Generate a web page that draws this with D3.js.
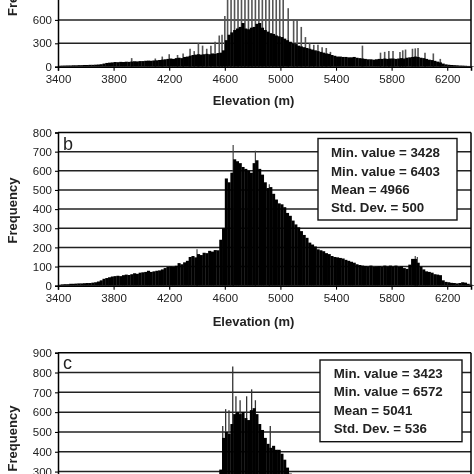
<!DOCTYPE html>
<html><head><meta charset="utf-8">
<script src="https://cdnjs.cloudflare.com/ajax/libs/d3/7.8.5/d3.min.js"></script>
<style>html,body{margin:0;padding:0;background:#fff;overflow:hidden}svg{display:block;filter:blur(.35px)}</style>
</head><body><svg id="c" width="474" height="474"></svg>
<script>
const binStart = 3400, binStep = 20;
const xTicks = [3400,3800,4200,4600,5000,5400,5800,6200];
const aTicks = [0,300,600];
const bTicks = [0,100,200,300,400,500,600,700,800];
const cTicks = [300,400,500,600,700,800,900];
const aBase = [12,14,15,16,16,18,18,20,20,22,22,24,24,26,28,
 32,40,48,52,55,
 60,58,62,60,64,62,66,70,68,72,
 72,76,78,76,80,82,86,90,95,100,
 105,100,110,115,110,125,130,140,150,155,
 160,155,160,165,160,170,165,175,180,210,
 340,410,440,470,490,510,560,490,480,500,
 510,550,560,500,470,450,430,420,400,390,
 380,360,340,320,300,290,270,260,250,240,
 230,220,210,200,190,180,170,165,150,140,
 130,130,125,125,120,120,125,115,110,105,
 100,95,95,90,95,100,100,105,100,105,
 105,100,105,110,105,115,120,125,130,125,
 115,110,100,90,85,75,65,55,40,30,
 25,22,20,18,15,14,12,10,8,5];
const aSpikeElev = [3930,4100,4150,4200,4260,4300,4350,4380,4410,4440,4470,4500,4530,4560,4580,4600,4620,4645,4670,4695,4720,4745,4770,4795,4820,4845,4870,4895,4920,4945,4970,4995,5020,5056,5095,5120,5150,5180,5210,5240,5270,5300,5330,5360,5590,5720,5750,5780,5810,5860,5880,5900,5950,5970,5990,6040,6100,6150];
const aSpikeVal = [110,105,130,160,150,170,230,200,300,270,230,270,320,400,410,650,960,1000,930,990,940,1010,970,1000,950,990,940,1000,960,1000,930,990,900,750,600,600,510,380,300,280,280,250,240,190,270,180,190,200,200,190,210,220,230,235,240,180,170,100];
const bVals = [5,7,8,8,10,10,11,12,12,13,14,14,16,18,22,
 28,36,40,44,48,
 50,52,50,55,58,56,60,65,62,68,
 70,72,78,72,75,78,80,85,92,98,
 100,98,104,118,112,122,130,150,155,148,
 165,160,172,170,182,178,186,185,240,300,
 560,540,590,660,650,640,620,610,600,590,
 640,655,610,580,540,510,515,480,450,430,
 425,410,380,365,340,320,305,285,265,250,
 225,215,205,190,185,180,170,165,155,150,
 148,145,142,135,130,125,120,112,108,105,
 103,100,105,98,100,102,98,105,100,105,
 100,105,98,102,92,88,110,140,140,120,
 100,85,75,72,68,60,58,55,28,20,
 18,15,14,12,14,18,16,10,5,3];
const bSpikeElev = [4400,4660,4820,4920,5970,5985];
const bSpikeVal = [190,735,705,530,155,150];
const cVisibleStart = 4540;
const cVals = [200,310,470,500,490,540,590,600,590,600,570,560,610,620,590,540,510,470,440,420,430,410,410,390,360,320,290,250];
const cSpikeElev = [4585,4606,4630,4657,4680,4710,4757,4793,4820,4927];
const cSpikeVal = [530,615,610,830,680,660,680,715,660,530];
const xLabel = "Elevation (m)", yLabel = "Frequency";
const bStats = ["Min. value = 3428","Min. value = 6403","Mean = 4966","Std. Dev. = 500"];
const cStats = ["Min. value = 3423","Min. value = 6572","Mean = 5041","Std. Dev. = 536"];

const FONT = '"Liberation Sans", Arial, sans-serif', INK = '#222';
const svg = d3.select('#c').style('font-family', FONT);
const L = 58, R = 471;
const x = d3.scaleLinear().domain([3400, 6371]).range([L, R]);

function panel(o){
  const y = d3.scaleLinear().domain([0, o.yMax]).range([o.y0, o.yTop]);
  const g = svg.append('g');
  g.append('g').selectAll('line').data(o.ticks.filter(t => t>0 && t<o.yMax)).join('line')
    .attr('x1', L).attr('x2', R).attr('y1', d=>y(d)).attr('y2', d=>y(d))
    .attr('stroke', '#222').attr('stroke-width', 1.5);
  if (o.spE) g.append('g').selectAll('line').data(o.spE).join('line')
    .attr('x1', d=>x(d)).attr('x2', d=>x(d)).attr('y1', o.y0)
    .attr('y2', (d,i)=>y(o.spV[i])).attr('stroke', o.spColor).attr('stroke-width', o.spW);
  g.append('g').selectAll('rect').data(o.vals).join('rect')
    .attr('x', (d,i)=>x(o.start + i*binStep))
    .attr('width', x(binStep)-x(0)+0.3)
    .attr('y', d=>y(d)).attr('height', d=>o.y0-y(d)).attr('fill', '#000');
  const axes = [g.append('g').attr('transform', `translate(${L},0)`)
    .call(d3.axisLeft(y).tickValues(o.ticks).tickFormat(d3.format('d')).tickSize(3).tickPadding(3))];
  if (o.y0 < 474) axes.push(g.append('g').attr('transform', `translate(0,${o.y0})`)
    .call(d3.axisBottom(x).tickValues(xTicks).tickFormat(d3.format('d')).tickSize(4).tickPadding(4)));
  axes.forEach(a=>{
    a.select('.domain').attr('stroke','#000').attr('stroke-width',1.5);
    a.selectAll('.tick line').attr('stroke','#000').attr('stroke-width',1.1);
    a.selectAll('text').attr('font-size',11.5).attr('font-family',FONT).attr('fill',INK);
  });
  g.append('line').attr('x1',L).attr('x2',R).attr('y1',o.yTop).attr('y2',o.yTop).attr('stroke','#000').attr('stroke-width',1.5);
  g.append('line').attr('x1',R).attr('x2',R).attr('y1',o.yTop).attr('y2',Math.min(o.y0,474)).attr('stroke','#000').attr('stroke-width',1.5);
  g.append('text').attr('transform',`translate(${12.5},${o.yLabelC}) rotate(-90)`).attr('text-anchor','middle').attr('dominant-baseline','central')
    .attr('font-weight','bold').attr('font-size',13).attr('fill',INK).text(yLabel);
  if (o.xLabelY) g.append('text').attr('x',253.5).attr('y',o.xLabelY).attr('text-anchor','middle')
    .attr('font-weight','bold').attr('font-size',13).attr('fill',INK).text(xLabel);
  if (o.letter) g.append('text').attr('x',63).attr('y',o.letterY).attr('font-size',18).attr('fill',INK).text(o.letter);
  if (o.box){
    const b=o.box;
    g.append('rect').attr('x',b.x).attr('y',b.y).attr('width',b.w).attr('height',b.h).attr('fill','#fff').attr('stroke','#111').attr('stroke-width',1.4);
    g.append('g').selectAll('text').data(o.stats).join('text')
      .attr('x',b.tx).attr('y',(d,i)=>b.by[i]).attr('font-weight','bold').attr('font-size',13.3).attr('fill',INK).text(d=>d);
  }
}
panel({yMax:900,y0:66.7,yTop:-3.5,ticks:aTicks,vals:aBase,start:binStart,spE:aSpikeElev,spV:aSpikeVal,spColor:'#555',spW:1.6,yLabelC:-17,xLabelY:105});
panel({yMax:800,y0:285.7,yTop:132.5,ticks:bTicks,vals:bVals,start:binStart,spE:bSpikeElev,spV:bSpikeVal,spColor:'#444',spW:1.2,yLabelC:210.5,xLabelY:326,letter:'b',letterY:150,stats:bStats,
  box:{x:318,y:138.5,w:139,h:81.5,tx:331,by:[157,175.6,193.5,211.7]}});
panel({yMax:900,y0:531,yTop:352.7,ticks:cTicks,vals:cVals,start:cVisibleStart,spE:cSpikeElev,spV:cSpikeVal,spColor:'#333',spW:1.3,yLabelC:438.5,letter:'c',letterY:369,stats:cStats,
  box:{x:320,y:360,w:142,h:81.7,tx:333.7,by:[377.7,396,415,433]}});
</script></body></html>
